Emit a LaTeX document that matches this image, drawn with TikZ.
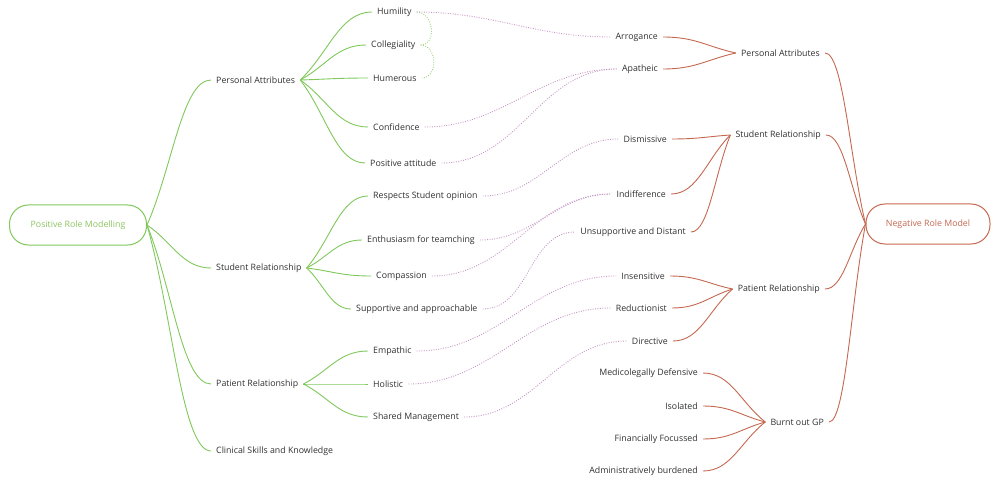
\documentclass[tikz,border=0pt]{standalone}
\usepackage{fontspec}
\setmainfont{Open Sans}
\usetikzlibrary{calc}

\definecolor{posgreen}{RGB}{128,200,92}
\definecolor{postext}{RGB}{140,196,96}
\definecolor{negred}{RGB}{196,104,80}
\definecolor{linkpurple}{RGB}{196,150,196}
\definecolor{linkgreen}{RGB}{160,210,130}
\definecolor{txtgray}{RGB}{48,48,48}

\tikzset{
  topic/.style={text=txtgray, font=\fontsize{8.8}{10}\selectfont, inner xsep=5pt, inner ysep=2pt},
  rootbox/.style={line width=1pt, rounded corners=19pt, minimum height=40pt, inner sep=0pt, font=\fontsize{8.8}{10}\selectfont},
  branch/.style={to path={let \p1=(\tikztostart), \p2=(\tikztotarget) in
      .. controls ($(\p1)!0.4!(\p2)$) and ($(\p2)!0.45!(\x1,\y2)$) .. (\tikztotarget)}},
  posline/.style={draw=posgreen, line width=0.9pt, branch},
  negline/.style={draw=negred, line width=0.9pt, branch},
  crosslink/.style={draw=linkpurple, line width=0.9pt, dash pattern=on 0.9pt off 1.5pt},
}

\begin{document}
\begin{tikzpicture}
\begin{scope}[x=1pt, y=-1pt]
\useasboundingbox (0,0) rectangle (1000,486);

% the two central topics
\node[rootbox, draw=posgreen, text=postext, minimum width=137pt] (pos) at (78,225) {Positive Role Modelling};
\node[rootbox, draw=negred, text=negred, minimum width=124pt] (neg) at (928,224) {Negative Role Model};

% positive side
\node[topic, anchor=west] (ppa) at (211,80) {Personal Attributes};
\node[topic, anchor=west] (psr) at (211,268) {Student Relationship};
\node[topic, anchor=west] (ppr) at (211,384) {Patient Relationship};
\node[topic, anchor=west] (pcs) at (211,451) {Clinical Skills and Knowledge};

\node[topic, anchor=west] (hum) at (372,12) {Humility};
\node[topic, anchor=west] (col) at (366,45) {Collegiality};
\node[topic, anchor=west] (hmr) at (368,78) {Humerous};
\node[topic, anchor=west] (con) at (368,127) {Confidence};
\node[topic, anchor=west] (pat) at (365,163) {Positive attitude};
\node[topic, anchor=west] (rso) at (368,196) {Respects Student opinion};
\node[topic, anchor=west] (ent) at (362,240) {Enthusiasm for teamching};
\node[topic, anchor=west] (cmp) at (371,276) {Compassion};
\node[topic, anchor=west] (sap) at (351,309) {Supportive and approachable};
\node[topic, anchor=west] (emp) at (368,351) {Empathic};
\node[topic, anchor=west] (hol) at (368,384) {Holistic};
\node[topic, anchor=west] (shm) at (368,417) {Shared Management};

% negative side
\node[topic, anchor=east] (npa) at (825,53) {Personal Attributes};
\node[topic, anchor=east] (nsr) at (826,135) {Student Relationship};
\node[topic, anchor=east] (npr) at (825,289) {Patient Relationship};
\node[topic, anchor=east] (bgp) at (829,422) {Burnt out GP};

\node[topic, anchor=east] (arr) at (663,37) {Arrogance};
\node[topic, anchor=east] (apa) at (663,69) {Apatheic};
\node[topic, anchor=east] (dis) at (672,139) {Dismissive};
\node[topic, anchor=east] (ind) at (671,194) {Indifference};
\node[topic, anchor=east] (uad) at (691,232) {Unsupportive and Distant};
\node[topic, anchor=east] (ins) at (670,276) {Insensitive};
\node[topic, anchor=east] (red) at (672,308) {Reductionist};
\node[topic, anchor=east] (dir) at (673,341) {Directive};
\node[topic, anchor=east] (mld) at (703,373) {Medicolegally Defensive};
\node[topic, anchor=east] (iso) at (703,406) {Isolated};
\node[topic, anchor=east] (fif) at (703,439) {Financially Focussed};
\node[topic, anchor=east] (adb) at (703,471) {Administratively burdened};

% green branches
\foreach \leaf in {ppa,psr,ppr,pcs}
  \draw[posline] (pos.east) to (\leaf.west);
\foreach \leaf in {hum,col,hmr,con,pat}
  \draw[posline] (ppa.east) to (\leaf.west);
\foreach \leaf in {rso,ent,cmp,sap}
  \draw[posline] (psr.east) to (\leaf.west);
\foreach \leaf in {emp,hol,shm}
  \draw[posline] (ppr.east) to (\leaf.west);

% red branches
\foreach \leaf in {npa,nsr,npr,bgp}
  \draw[negline] (neg.west) to (\leaf.east);
\foreach \leaf in {arr,apa}
  \draw[negline] (npa.west) to (\leaf.east);
\foreach \leaf in {dis,ind,uad}
  \draw[negline] (nsr.west) to (\leaf.east);
\foreach \leaf in {ins,red,dir}
  \draw[negline] (npr.west) to (\leaf.east);
\foreach \leaf in {mld,iso,fif,adb}
  \draw[negline] (bgp.west) to (\leaf.east);

% dotted links
\draw[crosslink, draw=linkgreen] (hum.east) to[out=0, in=0, looseness=1.3] (col.east);
\draw[crosslink, draw=linkgreen] (col.east) to[out=0, in=0, looseness=1.3] (hmr.east);

\draw[crosslink] (hum.east) to[out=0, in=180] (arr.west);
\draw[crosslink] (con.east) to[out=0, in=180] (apa.west);
\draw[crosslink] (pat.east) to[out=0, in=180] (apa.west);
\draw[crosslink] (rso.east) to[out=0, in=180] (dis.west);
\draw[crosslink] (ent.east) to[out=0, in=180] (ind.west);
\draw[crosslink] (cmp.east) to[out=0, in=180] (ind.west);
\draw[crosslink] (sap.east) to[out=0, in=180] (uad.west);
\draw[crosslink] (emp.east) to[out=0, in=180] (ins.west);
\draw[crosslink] (hol.east) to[out=0, in=180] (red.west);
\draw[crosslink] (shm.east) to[out=0, in=180] (dir.west);

\end{scope}
\end{tikzpicture}
\end{document}
